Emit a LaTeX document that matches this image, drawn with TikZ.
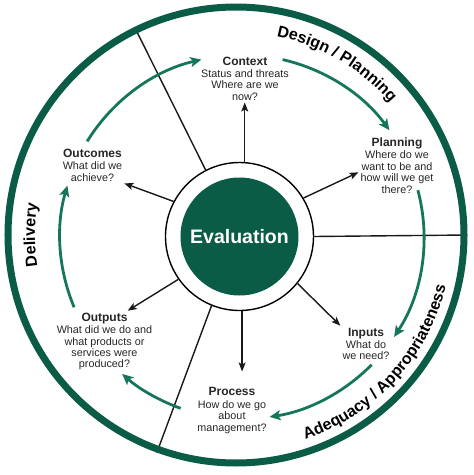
\documentclass[tikz,border=0pt]{standalone}
\usepackage{fontspec}
\setmainfont{Liberation Sans}
\usetikzlibrary{arrows.meta,decorations.text,backgrounds,calc}
\definecolor{deepgreen}{RGB}{10,92,70}
\definecolor{loopgreen}{RGB}{22,118,92}
\newcommand\bandfont{\fontsize{16}{16}\selectfont\bfseries}
\newcommand\stagetitle[1]{{\fontsize{12}{13}\selectfont\bfseries #1}\\[1pt]}
\tikzset{
  stage/.style={align=center, inner sep=2pt, text=black!85,
    font=\fontsize{10.8}{11.4}\selectfont},
  spoke/.style={line width=1.4pt, black!90},
  pointer/.style={line width=1.4pt, black!90, -{Stealth[length=9pt,width=7pt,inset=2pt]}},
  cyclearrow/.style={line width=2.8pt, loopgreen, -{Stealth[length=11pt,width=10pt,inset=2.5pt]}},
  bandtext/.style={decorate, decoration={text along path, text align=center, text={|\bandfont|#1}}}
}

\begin{document}
\begin{tikzpicture}[x=1pt, y=1pt]
  \useasboundingbox (-236,-240) rectangle (238,235);
  \coordinate (O) at (0,0);
  \coordinate (C) at (3.5,-1.5);
  \coordinate (G) at (6,-2);

  % rim and hub
  \node[circle, draw=deepgreen, line width=7pt, minimum size=456pt, inner sep=0pt] (rim) at (O) {};
  \node[circle, draw, fill=white, line width=1.4pt, minimum size=148pt, inner sep=0pt] (ring) at (C) {};
  \node[circle, fill=deepgreen, minimum size=118pt, inner sep=0pt, text=white,
    font=\fontsize{19.5}{20}\selectfont\bfseries] (eval) at (C) {Evaluation};
  \begin{pgfonlayer}{background}
    \draw[spoke] (ring.117.5) -- (rim.116.9);
    \draw[spoke] (ring.0) -- (rim.-0.5);
    \draw[spoke] (ring.248.5) -- (rim.250);
  \end{pgfonlayer}

  % stages
  \node[stage] (context) at (9,156.5) {\stagetitle{Context}Status and threats\\Where are we\\now?};
  \node[stage] (planning) at (161,69.5) {\stagetitle{Planning}Where do we\\want to be and\\how will we get\\there?};
  \node[stage] (inputs) at (130,-109) {\stagetitle{Inputs}What do\\we need?};
  \node[stage] (process) at (-4,-175.5) {\stagetitle{Process}How do we go\\about\\management?};
  \node[stage] (outputs) at (-131.5,-106.5) {\stagetitle{Outputs}What did we do and\\what products or\\services were\\produced?};
  \node[stage] (outcomes) at (-143.5,70) {\stagetitle{Outcomes}What did we\\achieve?};

  \draw[pointer] (ring.86.5) -- (ring.86.5 |- context.south);
  \draw[pointer] (ring.31) -- (planning.190);
  \draw[pointer] (ring.-39) -- (inputs.north west);
  \draw[pointer, shorten >=14pt] (ring.-88) -- (ring.-88 |- process.north);
  \draw[pointer] (ring.215) -- (outputs.53);
  \draw[pointer] (ring.152.6) -- (outcomes.-30);

  % the cycle
  \foreach \from/\to in {148.3/102.9, 77.1/35.9, 14.9/-33.3, -44.6/-81.3, -109.7/-131.2, -157.3/-196.4}
    \draw[cyclearrow] ($(G)+(\from:182pt)$) arc[start angle=\from, end angle=\to, radius=182pt];

  % sector names
  \path[bandtext={Design / Planning}] ($(O)+(95:203pt)$) arc[start angle=95, end angle=24, radius=203pt];
  \path[bandtext={Adequacy / Appropriateness}] ($(O)+(-85:216pt)$) arc[start angle=-85, end angle=0, radius=216pt];
  \path[bandtext={Delivery}] ($(O)+(210:201pt)$) arc[start angle=210, end angle=150, radius=201pt];
\end{tikzpicture}
\end{document}
